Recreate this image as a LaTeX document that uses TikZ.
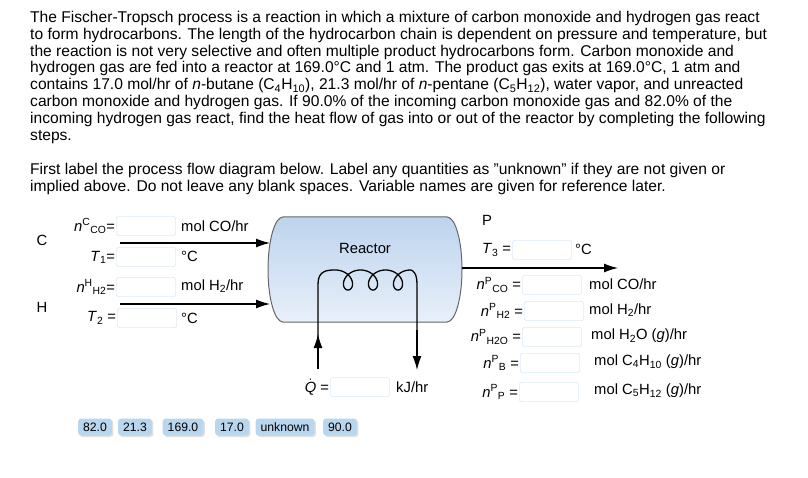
\documentclass[tikz,border=0pt]{standalone}
\usepackage{fontspec}
\setmainfont{Liberation Sans}
\usetikzlibrary{arrows.meta}
\usetikzlibrary{shadows}
\definecolor{boxline}{rgb}{0.76, 0.86, 0.95}
\definecolor{chip}{rgb}{0.72, 0.84, 0.93}
\definecolor{tanktop}{rgb}{0.74, 0.83, 0.93}
\definecolor{tankbot}{rgb}{0.91, 0.94, 0.98}
\newcommand{\nsym}[2]{\textit{n}\textsuperscript{#1}\textsubscript{#2}}

\begin{document}
\begin{tikzpicture}[x=1pt, y=-1pt, font=\fontsize{14.8}{16}\selectfont,
  blank/.style={draw=boxline, rounded corners=2pt, minimum width=59pt, minimum height=19pt, inner sep=0pt},
  tag/.style={anchor=east, inner sep=1pt},
  unit/.style={anchor=west, inner sep=1pt},
  flow/.style={-{Latex[length=14pt, width=9pt]}, line width=1.3pt},
  valchip/.style={fill=chip, rounded corners=3pt, inner xsep=5pt, minimum height=17pt, font=\fontsize{12.2}{13}\selectfont, drop shadow={shadow xshift=1.5pt, shadow yshift=-1.5pt, fill=gray!50}}]
\useasboundingbox (0,0) rectangle (808,478);
\node[anchor=north west, align=left, inner sep=0pt, font=\fontsize{15.6}{16.8}\selectfont] (intro) at (30,11) {%
The Fischer-Tropsch process is a reaction in which a mixture of carbon monoxide and hydrogen gas react\\
to form hydrocarbons. The length of the hydrocarbon chain is dependent on pressure and temperature, but\\
the reaction is not very selective and often multiple product hydrocarbons form. Carbon monoxide and\\
hydrogen gas are fed into a reactor at 169.0°C and 1 atm. The product gas exits at 169.0°C, 1 atm and\\
contains 17.0 mol/hr of \textit{n}-butane (C\textsubscript{4}H\textsubscript{10}), 21.3 mol/hr of \textit{n}-pentane (C\textsubscript{5}H\textsubscript{12}), water vapor, and unreacted\\
carbon monoxide and hydrogen gas. If 90.0\% of the incoming carbon monoxide gas and 82.0\% of the\\
incoming hydrogen gas react, find the heat flow of gas into or out of the reactor by completing the following\\
steps.};
\node[anchor=north west, align=left, inner sep=0pt, font=\fontsize{15.6}{16.8}\selectfont] (task) at (30,163) {%
First label the process flow diagram below. Label any quantities as "unknown" if they are not given or\\
implied above. Do not leave any blank spaces. Variable names are given for reference later.};

% reactor
\shade[top color=tanktop, bottom color=tankbot, draw=gray!80!black, line width=1pt]
  (283,217) -- (447,217) arc[start angle=-90, end angle=90, x radius=15, y radius=52.5]
  -- (283,322) arc[start angle=90, end angle=270, x radius=15, y radius=52.5] -- cycle;
\node (reactor) at (365,248) {Reactor};
\coordinate (coilin) at (318,369);
\coordinate (coilout) at (417,370);
\draw[flow] (coilin) -- (318,334);
\draw[line width=1.3pt] (318,340) -- (318,284) .. controls (318,270) and (328,270) .. (335.5,270)
  plot[domain=-pi:5*pi, samples=200, variable=\t] ({348+3.98*\t-10*sin(\t r)}, {280+10*cos(\t r)})
  .. controls (412,270) and (417,272) .. (417,284) -- (417,340);
\draw[flow] (417,330) -- (coilout);

% feed C
\node (C) at (42,240) {C};
\node[blank] (nCO) at (146,226) {};
\node[tag] at (nCO.west) {\nsym{C}{CO}=};
\node[unit] at (180,226) {mol CO/hr};
\node[blank] (T1) at (146,257) {};
\node[tag] at (T1.west) {\textit{T}\textsubscript{1}=};
\node[unit] at (180,256) {°C};
\coordinate (Cin) at (120,243);
\coordinate (Cend) at (270,243);
\draw[flow] (Cin) -- (Cend);

% feed H
\node (H) at (42,307) {H};
\node[blank] (nH2) at (146,287) {};
\node[tag] at (nH2.west) {\nsym{H}{H2}=};
\node[unit] at (180,286) {mol H\textsubscript{2}/hr};
\node[blank] (T2) at (147,318) {};
\node[tag] at (T2.west) {\textit{T}\textsubscript{2} =};
\node[unit] at (180,318) {°C};
\coordinate (Hin) at (120,304);
\coordinate (Hend) at (270,304);
\draw[flow] (Hin) -- (Hend);

% heat
\node[blank] (Q) at (360,387) {};
\node[tag] at (Q.west) {$\dot{\mbox{\textit{Q}}}$ =};
\node[unit] at (395,387) {kJ/hr};

% product P
\node (P) at (487,220) {P};
\node[blank] (T3) at (542,250) {};
\node[tag] at (T3.west) {\textit{T}\textsubscript{3} =};
\node[unit] at (574,249) {°C};
\coordinate (Pout) at (462,268);
\coordinate (Pend) at (618,268);
\draw[flow] (Pout) -- (Pend);
\node[blank] (pCO) at (552,285) {};
\node[tag] at (pCO.west) {\nsym{P}{CO} =};
\node[unit] at (588,284) {mol CO/hr};
\node[blank] (pH2) at (554,311) {};
\node[tag] at (pH2.west) {\nsym{P}{H2} =};
\node[unit] at (588,310) {mol H\textsubscript{2}/hr};
\node[blank] (pH2O) at (552,337) {};
\node[tag] at (pH2O.west) {\nsym{P}{H2O} =};
\node[unit] at (590,336) {mol H\textsubscript{2}O (\textit{g})/hr};
\node[blank] (pB) at (550,363) {};
\node[tag] at (pB.west) {\nsym{P}{B} =};
\node[unit] at (593,362) {mol C\textsubscript{4}H\textsubscript{10} (\textit{g})/hr};
\node[blank] (pP) at (549,392) {};
\node[tag] at (pP.west) {\nsym{P}{P} =};
\node[unit] at (593,391) {mol C\textsubscript{5}H\textsubscript{12} (\textit{g})/hr};

% answer chips
\node[valchip] (v1) at (95,427) {82.0};
\node[valchip] (v2) at (135,427) {21.3};
\node[valchip] (v3) at (183,427) {169.0};
\node[valchip] (v4) at (232,427) {17.0};
\node[valchip] (v5) at (285,427) {unknown};
\node[valchip] (v6) at (340,427) {90.0};
\end{tikzpicture}
\end{document}
